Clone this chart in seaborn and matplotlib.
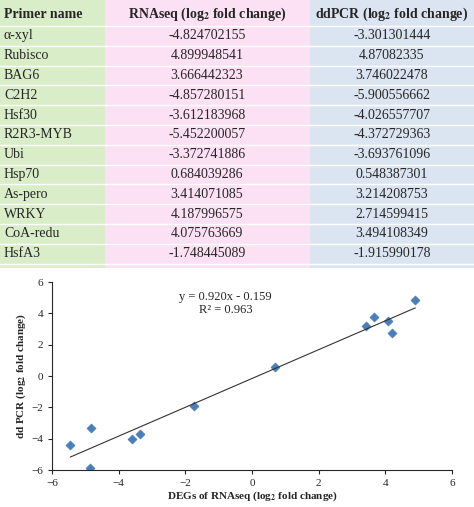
import numpy as np
import seaborn as sns
import matplotlib.pyplot as plt
import pandas as pd

primers = ['α-xyl', 'Rubisco', 'BAG6', 'C2H2', 'Hsf30', 'R2R3-MYB', 'Ubi',
           'Hsp70', 'As-pero', 'WRKY', 'CoA-redu', 'HsfA3']
rnaseq = ['-4.824702155', '4.899948541', '3.666442323', '-4.857280151', '-3.612183968',
          '-5.452200057', '-3.372741886', '0.684039286', '3.414071085', '4.187996575',
          '4.075763669', '-1.748445089']
ddpcr = ['-3.301301444', '4.87082335', '3.746022478', '-5.900556662', '-4.026557707',
         '-4.372729363', '-3.693761096', '0.548387301', '3.214208753', '2.714599415',
         '3.494108349', '-1.915990178']
slope, intercept = 0.920, -0.159

sns.set_style('ticks')
plt.rcParams['font.family'] = ['Liberation Serif', 'DejaVu Serif']
plt.rcParams['mathtext.fontset'] = 'stix'

fig = plt.figure(figsize=(4.74, 5.07), dpi=100)

# table part, in pixel coordinates
tab = fig.add_axes([0, 1 - 268 / 507, 1, 268 / 507])
tab.set_xlim(0, 474)
tab.set_ylim(268, 0)
tab.axis('off')
cols = [(0, 105, '#d9edc9'), (105, 310, '#fce1f4'), (310, 474, '#dbe5f1')]
for x0, x1, c in cols:
    tab.add_patch(plt.Rectangle((x0, 0), x1 - x0, 268, color=c, lw=0))
top, rh = 26, 19.8
for i in range(13):
    tab.axhline(top + i * rh, color='white', lw=1)
tab.text(4, 14, 'Primer name', fontsize=10, fontweight='bold', va='center')
tab.text(207, 14, r'RNAseq (log$_\mathbf{2}$ fold change)', fontsize=10, fontweight='bold',
         va='center', ha='center')
tab.text(392, 14, r'ddPCR (log$_\mathbf{2}$ fold change)', fontsize=10, fontweight='bold',
         va='center', ha='center')
for i, (p, a, b) in enumerate(zip(primers, rnaseq, ddpcr)):
    y = top + rh * (i + 0.5)
    tab.text(4, y, p, fontsize=10, va='center')
    tab.text(207, y, a, fontsize=10, va='center', ha='center')
    tab.text(392, y, b, fontsize=10, va='center', ha='center')

# scatter part
df = pd.DataFrame({'x': [float(v) for v in rnaseq], 'y': [float(v) for v in ddpcr]})
ax = fig.add_axes([52 / 474, 1 - 470 / 507, 400 / 474, 188 / 507])
sns.scatterplot(data=df, x='x', y='y', marker='D', s=22, color='#4a7ebb',
                edgecolor='#4a7ebb', ax=ax)
xs = np.array([df.x.min(), df.x.max()])
ax.plot(xs, slope * xs + intercept, color='#333333', lw=0.8)
ax.set_xlim(-6, 6)
ax.set_ylim(-6, 6)
ax.set_xticks(range(-6, 7, 2))
ax.set_yticks(range(-6, 7, 2))
ax.tick_params(labelsize=8, length=3)
for s in ['top', 'right']:
    ax.spines[s].set_visible(False)
ax.set_xlabel(r'DEGs of RNAseq (log$_\mathbf{2}$ fold change)', fontsize=8,
              fontweight='bold', labelpad=1)
ax.set_ylabel(r'dd PCR (log$_\mathbf{2}$ fold change)', fontsize=8,
              fontweight='bold', labelpad=2)
ax.text(-0.8, 4.6, 'y = 0.920x - 0.159\nR² = 0.963', fontsize=9, ha='center',
        va='center', linespacing=1.1)

fig.savefig('out.png', dpi=100)
